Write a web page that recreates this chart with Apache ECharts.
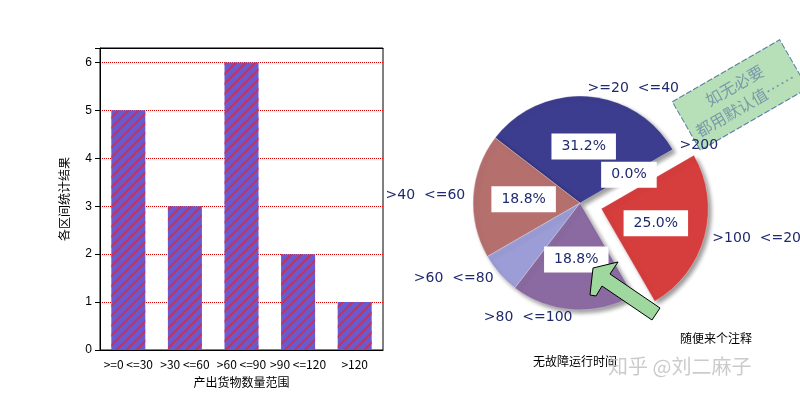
<!DOCTYPE html>
<html><head><meta charset="utf-8">
<script src="https://cdn.jsdelivr.net/npm/echarts@6/dist/echarts.min.js"></script>
<style>body{margin:0}#c{width:800px;height:400px}</style></head>
<body><div id="c"></div>
<script>
const barCats = ['>=0 <=30', '>30 <=60', '>60 <=90', '>90 <=120', '>120'];
const barVals = [5, 3, 6, 2, 1];
const pieNames = ['>200', '>=20 <=40', '>40 <=60', '>60 <=80', '>80 <=100', '>100 <=200'];
const pieVals = [0, 5, 3, 1, 3, 4];
const pieColors = ['#3d3d8f', '#3d3d8f', '#b5706e', '#9c9cd6', '#8a6aa0', '#d63d3d'];
const F = '"Noto Sans CJK SC", sans-serif';
const chart = echarts.init(document.getElementById('c'));
const total = pieVals.reduce((a, b) => a + b, 0);
function pct(v) {
  const x = v / total * 1000, f = Math.floor(x), d = x - f;
  let r = d > 0.5 + 1e-9 ? f + 1 : (d < 0.5 - 1e-9 ? f : (f % 2 === 0 ? f : f + 1));
  return (r / 10).toFixed(1) + '%';
}
function pieData(transparent) {
  return pieNames.map((n, i) => ({
    name: n, value: pieVals[i], selected: i === 5,
    itemStyle: transparent ? {color: 'rgba(0,0,0,0)', shadowBlur: 0, borderWidth: 0} : {color: pieColors[i]}
  }));
}
chart.setOption({
  animation: false,
  grid: {left: 100, right: 417, top: 48, bottom: 50, show: true, borderColor: '#000', borderWidth: 1},
  xAxis: [{type: 'category', data: barCats, axisLine: {lineStyle: {color: '#000'}},
    axisTick: {alignWithLabel: true, lineStyle: {color: '#000'}},
    axisLabel: {color: '#000', fontSize: 12, interval: 0, fontFamily: F},
    name: '产出货物数量范围', nameLocation: 'middle', nameGap: 26, nameTextStyle: {fontFamily: F, fontSize: 12, color: '#000'}},
    {type: 'category', data: barCats, position: 'top', axisLine: {lineStyle: {color: '#000'}}, axisTick: {show: false}, axisLabel: {show: false}}],
  yAxis: {type: 'value', min: 0, max: 6.3, interval: 1,
    axisLabel: {color: '#000', fontSize: 12, formatter: v => Number.isInteger(v) ? v : ''},
    axisLine: {show: true, lineStyle: {color: '#000'}}, axisTick: {show: true, lineStyle: {color: '#000'}},
    splitLine: {lineStyle: {color: '#d00', type: 'dotted'}},
    name: '各区间统计结果', nameLocation: 'middle', nameGap: 30, nameTextStyle: {fontFamily: F, fontSize: 12, color: '#000'}},
  series: [
    {type: 'bar', data: barVals, barWidth: 34,
      itemStyle: {color: '#6a5acd', decal: {symbol: 'rect', dashArrayX: [1, 0], dashArrayY: [2, 5], rotation: -Math.PI / 4, color: 'rgba(220,40,60,0.8)', symbolSize: 1}}},
    {type: 'pie', center: [580, 203], radius: 107, startAngle: 30, clockwise: false, selectedMode: 'single', selectedOffset: 22,
      data: pieData(false),
      itemStyle: {shadowBlur: 4, shadowOffsetX: 3, shadowOffsetY: 3, shadowColor: 'rgba(0,0,0,0.4)', borderColor: 'rgba(255,255,255,0.3)', borderWidth: 1},
      label: {position: 'outside', color: '#1f2a6e', fontSize: 14, formatter: p => p.name.replace(' ', '  '), fontFamily: 'DejaVu Sans', alignTo: 'none', distanceToLabelLine: 0},
      labelLine: {show: false, length: 8, length2: 0}, avoidLabelOverlap: false, emphasis: {disabled: true}},
    {type: 'pie', center: [580, 203], radius: 107, startAngle: 30, clockwise: false, selectedMode: 'single', selectedOffset: 22,
      data: pieData(true), z: 5,
      label: {position: 'inside', color: '#1f2a6e', fontSize: 14, backgroundColor: '#fff', padding: [6, 10],
        formatter: p => pct(p.value), fontFamily: 'DejaVu Sans'},
      labelLine: {show: false}, emphasis: {disabled: true}}
  ],
  graphic: [
    {type: 'group', x: 740, y: 95, rotation: Math.PI / 6, z: 100, children: [
      {type: 'rect', shape: {x: -62, y: -28, width: 124, height: 56}, style: {fill: '#b8e0b8', stroke: '#5a7fa0', lineWidth: 1, lineDash: [6, 2]}},
      {type: 'text', style: {x: 0, y: 0, text: '如无必要\n都用默认值……', align: 'center', verticalAlign: 'middle', fill: '#7a9aa8', font: '16px ' + F, lineHeight: 22}}
    ]},
    {type: 'polygon', z: 100, shape: {points: [[590, 295], [593, 268], [618, 262], [610, 274], [660, 308], [652, 320], [602, 286], [596, 296]]},
      style: {fill: '#9ed89e', stroke: '#000', lineWidth: 1}},
    {type: 'text', z: 100, style: {x: 680, y: 332, text: '随便来个注释', fill: '#000', font: '12px ' + F}},
    {type: 'text', z: 100, style: {x: 533, y: 355, text: '无故障运行时间', fill: '#000', font: '12px ' + F}},
    {type: 'text', z: 100, style: {x: 608, y: 356, text: '知乎 @刘二麻子', fill: 'rgba(190,190,190,0.8)', font: '20px ' + F}}
  ]
});
</script></body></html>
